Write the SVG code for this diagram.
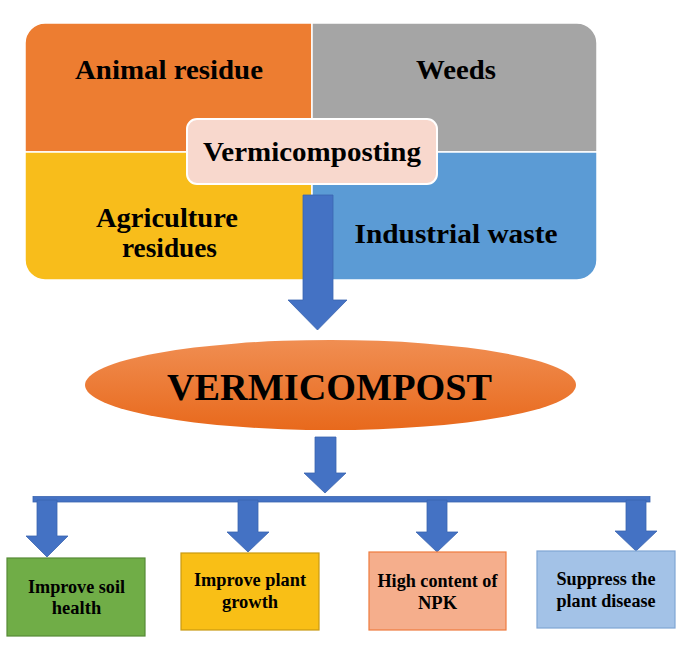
<svg xmlns="http://www.w3.org/2000/svg" width="685" height="649" viewBox="0 0 685 649">
<style>
.t{font-family:'Liberation Serif','Times New Roman',serif;font-weight:700;fill:#000;text-anchor:middle}
.big{font-size:27.5px}
.sm{font-size:18.5px}
.q{stroke:#fff;stroke-width:1.5}
.arr{fill:#4472C4;stroke:#3B65B0;stroke-width:0.8}
.box{stroke-width:1.2}
</style>
<defs>
<linearGradient id="og" x1="0" y1="0" x2="0" y2="1">
<stop offset="0" stop-color="#F08E52"/>
<stop offset="1" stop-color="#E8691C"/>
</linearGradient>
</defs>
<rect width="685" height="649" fill="#fff"/>
<g id="animal-residue">
<path class="q" d="M25,152 V43 A20,20 0 0 1 45,23 H312 V152 Z" fill="#ED7D31"/>
<text class="t big" x="169" y="79" textLength="188" lengthAdjust="spacingAndGlyphs">Animal residue</text>
</g>
<g id="weeds">
<path class="q" d="M312,23 H577 A20,20 0 0 1 597,43 V152 H312 Z" fill="#A5A5A5"/>
<text class="t big" x="456" y="79" textLength="80" lengthAdjust="spacingAndGlyphs">Weeds</text>
</g>
<g id="agriculture-residues">
<path class="q" d="M25,152 H312 V280 H45 A20,20 0 0 1 25,260 Z" fill="#F8BD1B"/>
<text class="t big" x="167" y="227" textLength="142" lengthAdjust="spacingAndGlyphs">Agriculture</text>
<text class="t big" x="169.5" y="257" textLength="95" lengthAdjust="spacingAndGlyphs">residues</text>
</g>
<g id="industrial-waste">
<path class="q" d="M312,152 H597 V260 A20,20 0 0 1 577,280 H312 Z" fill="#5B9BD5"/>
<text class="t big" x="456" y="243" textLength="203" lengthAdjust="spacingAndGlyphs">Industrial waste</text>
</g>
<g id="vermicomposting">
<rect x="187" y="119" width="250" height="65" rx="10" fill="#F8D8CD" stroke="#fff" stroke-width="2"/>
<text class="t" x="312" y="161" font-size="27.5" textLength="218" lengthAdjust="spacingAndGlyphs">Vermicomposting</text>
</g>
<g id="vermicompost">
<ellipse cx="330.5" cy="385" rx="245.5" ry="45" fill="url(#og)"/>
<text class="t" x="329.5" y="400" font-size="38" textLength="325" lengthAdjust="spacingAndGlyphs">VERMICOMPOST</text>
</g>
<g id="connectors">
<polygon class="arr" points="303,195 333,195 333,300 347,300 317.5,330 288,300 303,300"/>
<polygon class="arr" points="315,437 336,437 336,473 346,473 325,493 304,473 315,473"/>
<rect class="arr" x="33" y="496.5" width="617" height="5.5"/>
<polygon class="arr" points="37,500 57,500 57,536 68,536 47,557 26,536 37,536"/>
<polygon class="arr" points="238,500 258,500 258,532 269,532 248,552 227,532 238,532"/>
<polygon class="arr" points="427,500 447,500 447,532 458,532 437,552 416,532 427,532"/>
<polygon class="arr" points="626,500 646,500 646,531 657,531 636,551 615,531 626,531"/>
</g>
<g id="improve-soil-health">
<rect class="box" x="7" y="558" width="138" height="78" fill="#70AD47" stroke="#568A36"/>
<text class="t sm" x="76.5" y="593" textLength="97" lengthAdjust="spacingAndGlyphs">Improve soil</text>
<text class="t sm" x="76.5" y="614">health</text>
</g>
<g id="improve-plant-growth">
<rect class="box" x="181" y="553" width="138" height="77" fill="#F9BF16" stroke="#C99A12"/>
<text class="t sm" x="250" y="586" textLength="112" lengthAdjust="spacingAndGlyphs">Improve plant</text>
<text class="t sm" x="250" y="608">growth</text>
</g>
<g id="high-content-npk">
<rect class="box" x="369" y="552" width="137" height="78" fill="#F5AE8C" stroke="#EE7B3E"/>
<text class="t sm" x="437.5" y="587" textLength="120" lengthAdjust="spacingAndGlyphs">High content of</text>
<text class="t sm" x="437.5" y="609">NPK</text>
</g>
<g id="suppress-plant-disease">
<rect class="box" x="537" y="551" width="138" height="77" fill="#A3C2E7" stroke="#7FA5D4"/>
<text class="t sm" x="606" y="585" textLength="99" lengthAdjust="spacingAndGlyphs">Suppress the</text>
<text class="t sm" x="606" y="607" textLength="99" lengthAdjust="spacingAndGlyphs">plant disease</text>
</g>
</svg>
